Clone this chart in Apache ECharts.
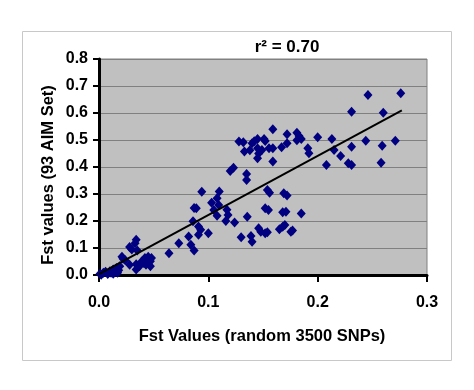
<!DOCTYPE html>
<html>
<head>
<meta charset="utf-8">
<script src="https://cdn.jsdelivr.net/npm/echarts@6/dist/echarts.min.js"></script>
<style>
html,body{margin:0;padding:0;background:#fff;}
#c{width:474px;height:390px;}
</style>
</head>
<body>
<div id="c"></div>
<script>
var titleText = 'r² = 0.70';
var xAxisTitle = 'Fst Values (random 3500 SNPs)';
var yAxisTitle = 'Fst values (93 AIM Set)';
var xTicks = [0, 0.1, 0.2, 0.3];
var yTicks = [0, 0.1, 0.2, 0.3, 0.4, 0.5, 0.6, 0.7, 0.8];

var pointsNearOrigin = [
  [0.001,0.005],[0.002,0.001],[0.004,0.008],[0.006,0.012],[0.008,0.004],[0.010,0.014],
  [0.011,0.008],[0.013,0.005],[0.013,0.020],[0.015,0.012],[0.016,0.026],[0.017,0.008],
  [0.018,0.018],[0.019,0.032]
];
var pointsLowCluster = [
  [0.021,0.068],[0.022,0.060],[0.024,0.055],[0.028,0.104],[0.030,0.094],[0.028,0.038],
  [0.033,0.118],[0.034,0.131],[0.035,0.091],[0.034,0.020],[0.034,0.040],[0.037,0.032],
  [0.039,0.050],[0.041,0.044],[0.042,0.063],[0.043,0.038],[0.045,0.068],[0.047,0.051],
  [0.047,0.032],[0.048,0.063]
];
var pointsMiddle = [
  [0.064,0.081],[0.073,0.118],[0.082,0.143],[0.084,0.112],[0.087,0.091],[0.086,0.199],
  [0.087,0.248],[0.089,0.247],[0.091,0.180],[0.093,0.168],[0.091,0.149],[0.094,0.308],
  [0.100,0.155],[0.103,0.268],[0.105,0.241],[0.108,0.219],[0.108,0.284],[0.1095,0.259],
  [0.110,0.309],[0.116,0.200],[0.118,0.222],[0.117,0.242],[0.124,0.194],[0.120,0.385],
  [0.123,0.397],[0.135,0.374],[0.135,0.352]
];
var pointsUpper = [
  [0.128,0.494],[0.132,0.492],[0.133,0.457],[0.138,0.462],[0.140,0.488],[0.142,0.495],
  [0.145,0.504],[0.145,0.469],[0.145,0.432],[0.146,0.450],[0.149,0.463],[0.151,0.504],
  [0.152,0.496],[0.1555,0.469],[0.159,0.540],[0.159,0.469],[0.159,0.420],[0.167,0.473],
  [0.172,0.521],[0.172,0.488],[0.181,0.527],[0.183,0.515],[0.185,0.504],[0.181,0.499],
  [0.191,0.469],[0.192,0.451],[0.200,0.510],[0.208,0.407],[0.213,0.504],[0.215,0.463],
  [0.221,0.441],[0.228,0.414],[0.231,0.407],[0.231,0.475],[0.231,0.605],[0.244,0.497],
  [0.246,0.667],[0.259,0.479],[0.258,0.416],[0.260,0.601],[0.271,0.497],[0.276,0.673]
];
var pointsLower = [
  [0.130,0.140],[0.139,0.144],[0.140,0.123],[0.1356,0.216],[0.146,0.173],[0.148,0.160],
  [0.152,0.155],[0.154,0.158],[0.152,0.247],[0.155,0.241],[0.154,0.315],[0.156,0.305],
  [0.165,0.169],[0.168,0.179],[0.170,0.185],[0.168,0.232],[0.171,0.234],[0.169,0.303],
  [0.172,0.294],[0.1755,0.160],[0.177,0.165],[0.185,0.228]
];
var trendLine = [[0.0, 0.003],[0.277, 0.610]];

var allPoints = [].concat(pointsNearOrigin, pointsLowCluster, pointsMiddle, pointsUpper, pointsLower);

var FONT = 'Liberation Sans, Arial, sans-serif';
var chart = echarts.init(document.getElementById('c'), null, {renderer:'canvas'});
chart.setOption({
  backgroundColor: '#ffffff',
  animation: false,
  grid: {
    left: 99, right: 47, top: 59, bottom: 115,
    show: true, backgroundColor: '#c0c0c0', borderColor: '#808080', borderWidth: 1
  },
  xAxis: {
    type: 'value', min: xTicks[0], max: xTicks[xTicks.length-1], interval: 0.1,
    axisLine: {show: true, onZero: false, lineStyle: {color: '#000', width: 3}},
    axisTick: {show: true, length: 7, lineStyle: {color: '#000', width: 2}},
    axisLabel: {margin: 20, fontFamily: FONT, fontWeight: 'bold', fontSize: 16, color: '#000',
      formatter: function(v){ return v.toFixed(1); }},
    splitLine: {show: false}
  },
  yAxis: {
    type: 'value', min: yTicks[0], max: yTicks[yTicks.length-1], interval: 0.1,
    axisLine: {show: true, onZero: false, lineStyle: {color: '#000', width: 3}},
    axisTick: {show: true, length: 6, lineStyle: {color: '#000', width: 2}},
    axisLabel: {margin: 11, fontFamily: FONT, fontWeight: 'bold', fontSize: 16, color: '#000',
      formatter: function(v){ return v.toFixed(1); }},
    splitLine: {show: true, lineStyle: {color: '#808080', width: 1}}
  },
  graphic: [
    {type: 'rect', shape: {x: 22.5, y: 31.5, width: 429, height: 329},
      style: {fill: 'none', stroke: '#c8c8c8', lineWidth: 1}, silent: true},
    {type: 'text', x: 287, y: 47, style: {text: titleText, fontFamily: FONT, fontWeight: 'bold',
      fontSize: 17, fill: '#000', align: 'center', verticalAlign: 'middle'}},
    {type: 'text', x: 262, y: 336, style: {text: xAxisTitle, fontFamily: FONT, fontWeight: 'bold',
      fontSize: 16.5, fill: '#000', align: 'center', verticalAlign: 'middle'}},
    {type: 'text', x: 48, y: 175, rotation: Math.PI/2, style: {text: yAxisTitle, fontFamily: FONT, fontWeight: 'bold',
      fontSize: 16.5, fill: '#000', align: 'center', verticalAlign: 'middle'}}
  ],
  series: [
    {type: 'scatter', data: allPoints, symbol: 'diamond', symbolSize: [9, 10],
      itemStyle: {color: '#000080', opacity: 1}},
    {type: 'line', data: trendLine, showSymbol: false, symbol: 'none',
      lineStyle: {color: '#000', width: 2}, z: 3}
  ]
});
</script>
</body>
</html>
